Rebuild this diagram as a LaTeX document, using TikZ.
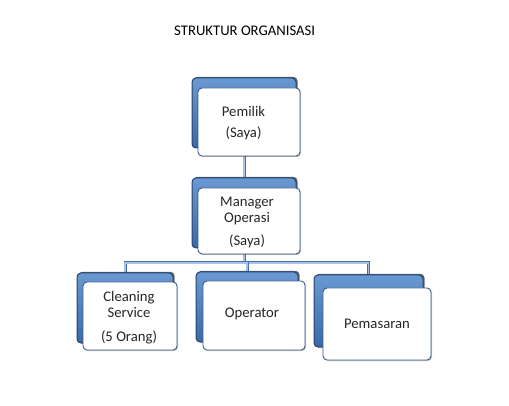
\documentclass[tikz,border=0pt]{standalone}
\usepackage{fontspec}
\setmainfont{Carlito}
\usetikzlibrary{shadows,backgrounds}
\definecolor{backtop}{HTML}{6A98D2}
\definecolor{backbot}{HTML}{3A69A6}
\definecolor{backedge}{HTML}{22436D}
\definecolor{frontedge}{HTML}{3A5A88}
\definecolor{linkout}{HTML}{3F71AE}
\definecolor{linkin}{HTML}{A9C2E2}
\tikzset{
  backbox/.style={rectangle, rounded corners=4pt, top color=backtop, bottom color=backbot,
    draw=backedge, line width=1pt, inner sep=0pt,
    drop shadow={shadow xshift=1.5pt, shadow yshift=1.2pt, opacity=0.6, fill=black}},
  frontbox/.style={rectangle, rounded corners=4pt, fill=white, draw=frontedge, line width=0.9pt,
    inner sep=0pt,
    drop shadow={shadow xshift=1pt, shadow yshift=-1pt, opacity=0.25, fill=black}},
  boxtext/.style={align=center, inner sep=0pt, font=\fontsize{14.7}{16}\selectfont, text=black!85},
  link/.style={draw=linkout, line width=0.8pt, double=linkin, double distance=1.4pt}
}
\begin{document}
\begin{tikzpicture}[x=1pt,y=-1pt]
\useasboundingbox (0,0) rectangle (509,406);
\node[font=\fontsize{14.7}{16}\selectfont, inner sep=0pt] (title) at (244.7,31) {STRUKTUR ORGANISASI};

% back boxes
\node[backbox, minimum width=104pt, minimum height=70pt] (pb) at (244,113) {};
\node[backbox, minimum width=104pt, minimum height=70pt] (mb) at (244,213) {};
\node[backbox, minimum width=96pt, minimum height=70pt] (cb) at (125,308) {};
\node[backbox, minimum width=102pt, minimum height=70pt] (ob) at (247,307) {};
\node[backbox, minimum width=109pt, minimum height=72pt] (sb) at (368.5,311) {};

% front boxes
\node[frontbox, minimum width=102pt, minimum height=68pt] (pf) at (249,122) {};
\node[frontbox, minimum width=102pt, minimum height=66pt] (mf) at (249,221) {};
\node[frontbox, minimum width=94pt, minimum height=68pt] (cf) at (130,316) {};
\node[frontbox, minimum width=102pt, minimum height=69pt] (of) at (254,315.5) {};
\node[frontbox, minimum width=108pt, minimum height=72pt] (sf) at (377,324) {};

% texts
\node[boxtext] (pt) at (243.5,123) {Pemilik\\[5pt](Saya)};
\node[boxtext] (mt) at (247,222) {Manager\\Operasi\\[7pt](Saya)};
\node[boxtext] (ct) at (129,318) {Cleaning\\Service\\[8pt](5 Orang)};
\node[boxtext] (ot) at (252,314) {Operator};
\node[boxtext] (st) at (377,324) {Pemasaran};

\coordinate (j) at (244,263);
\begin{scope}[on background layer]
  \draw[link] (pb.center) -- (mb.north);
  \draw[link] (mb.center) -- (j);
  \draw[link] (cb.north) |- (j) -| (sb.north);
  \draw[link] (j) -| (ob.north);
\end{scope}
\end{tikzpicture}
\end{document}
